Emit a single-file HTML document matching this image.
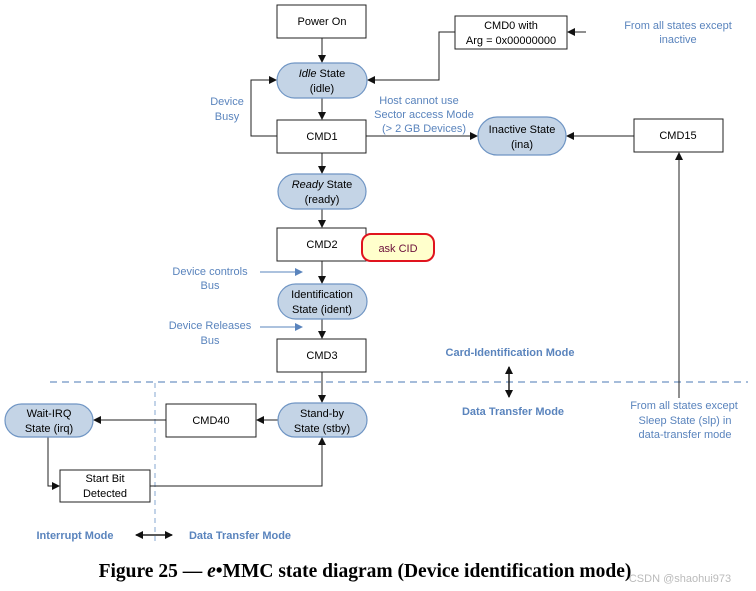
<!DOCTYPE html>
<html><head><meta charset="utf-8"><style>
html,body{margin:0;padding:0;background:#fff;}
svg{display:block;}
text{font-family:"Liberation Sans",sans-serif;font-size:11px;}
.b{fill:#fff;stroke:#222;stroke-width:1;}
.p{fill:#c4d4e6;stroke:#6f95c4;stroke-width:1.2;}
.l{stroke:#222;stroke-width:1;fill:none;}
.bl{fill:#5a84bd;}
.bb{fill:#5a84bd;font-weight:bold;}
</style></head><body>
<svg width="756" height="591" viewBox="0 0 756 591" xmlns="http://www.w3.org/2000/svg">
<defs>
<marker id="a" markerWidth="8" markerHeight="8" refX="7" refY="4" orient="auto-start-reverse" markerUnits="userSpaceOnUse"><path d="M0,0 L8,4 L0,8 z" fill="#111"/></marker>
<marker id="ab" markerWidth="8" markerHeight="8" refX="7" refY="4" orient="auto" markerUnits="userSpaceOnUse"><path d="M0,0 L8,4 L0,8 z" fill="#5a84bd"/></marker>
</defs>
<line x1="50" y1="382" x2="748" y2="382" stroke="#6f95c4" stroke-width="1.2" stroke-dasharray="7,5"/>
<line x1="155" y1="383" x2="155" y2="545" stroke="#9ab6d8" stroke-width="1.2" stroke-dasharray="5,4"/>

<line class="l" x1="322" y1="38" x2="322" y2="62" marker-end="url(#a)"/>
<line class="l" x1="322" y1="98" x2="322" y2="119" marker-end="url(#a)"/>
<line class="l" x1="322" y1="153" x2="322" y2="173" marker-end="url(#a)"/>
<line class="l" x1="322" y1="209" x2="322" y2="227" marker-end="url(#a)"/>
<line class="l" x1="322" y1="261" x2="322" y2="283" marker-end="url(#a)"/>
<line class="l" x1="322" y1="319" x2="322" y2="338" marker-end="url(#a)"/>
<line class="l" x1="322" y1="372" x2="322" y2="402" marker-end="url(#a)"/>
<polyline class="l" points="277,136 251,136 251,80 276,80" marker-end="url(#a)"/>
<polyline class="l" points="455,32 439,32 439,80 368,80" marker-end="url(#a)"/>
<line class="l" x1="586" y1="32" x2="568" y2="32" marker-end="url(#a)"/>
<line class="l" x1="366" y1="136" x2="477" y2="136" marker-end="url(#a)"/>
<line class="l" x1="634" y1="136" x2="567" y2="136" marker-end="url(#a)"/>
<line class="l" x1="679" y1="398" x2="679" y2="153" marker-end="url(#a)"/>
<line class="l" x1="278" y1="420" x2="257" y2="420" marker-end="url(#a)"/>
<line class="l" x1="166" y1="420" x2="94" y2="420" marker-end="url(#a)"/>
<polyline class="l" points="48,437 48,486 59,486" marker-end="url(#a)"/>
<polyline class="l" points="150,486 322,486 322,438" marker-end="url(#a)"/>
<line x1="260" y1="272" x2="302" y2="272" stroke="#5a84bd" marker-end="url(#ab)"/>
<line x1="260" y1="327" x2="302" y2="327" stroke="#5a84bd" marker-end="url(#ab)"/>
<line class="l" x1="509" y1="367" x2="509" y2="397" marker-end="url(#a)" marker-start="url(#a)" style="stroke-width:1.5"/>
<line class="l" x1="136" y1="535" x2="172" y2="535" marker-end="url(#a)" marker-start="url(#a)" style="stroke-width:1.5"/>

<rect class="b" x="277" y="5" width="89" height="33"/>
<text x="322" y="25" text-anchor="middle">Power On</text>
<rect class="p" x="277" y="63" width="90" height="35" rx="17.5"/>
<text x="322" y="77" text-anchor="middle"><tspan font-style="italic">Idle</tspan> State</text>
<text x="322" y="92" text-anchor="middle">(idle)</text>
<rect class="b" x="277" y="120" width="89" height="33"/>
<text x="322" y="140" text-anchor="middle">CMD1</text>
<rect class="p" x="278" y="174" width="88" height="35" rx="17.5"/>
<text x="322" y="188" text-anchor="middle"><tspan font-style="italic">Ready</tspan> State</text>
<text x="322" y="203" text-anchor="middle">(ready)</text>
<rect class="b" x="277" y="228" width="89" height="33"/>
<text x="322" y="248" text-anchor="middle">CMD2</text>
<rect x="362" y="234" width="72" height="27" rx="9" fill="#ffffcc" stroke="#e0141e" stroke-width="2"/>
<text x="398" y="252" text-anchor="middle" fill="#6b0f3a">ask CID</text>
<rect class="p" x="278" y="284" width="89" height="35" rx="17.5"/>
<text x="322" y="298" text-anchor="middle">Identification</text>
<text x="322" y="313" text-anchor="middle">State (ident)</text>
<rect class="b" x="277" y="339" width="89" height="33"/>
<text x="322" y="359" text-anchor="middle">CMD3</text>
<rect class="p" x="278" y="403" width="89" height="34" rx="17"/>
<text x="322" y="417" text-anchor="middle">Stand-by</text>
<text x="322" y="432" text-anchor="middle">State (stby)</text>
<rect class="b" x="166" y="404" width="90" height="33"/>
<text x="211" y="424" text-anchor="middle">CMD40</text>
<rect class="p" x="5" y="404" width="88" height="33" rx="16.5"/>
<text x="49" y="417" text-anchor="middle">Wait-IRQ</text>
<text x="49" y="432" text-anchor="middle">State (irq)</text>
<rect class="b" x="60" y="470" width="90" height="32"/>
<text x="105" y="482" text-anchor="middle">Start Bit</text>
<text x="105" y="497" text-anchor="middle">Detected</text>
<rect class="b" x="455" y="16" width="112" height="33"/>
<text x="511" y="29" text-anchor="middle">CMD0 with</text>
<text x="511" y="44" text-anchor="middle">Arg = 0x00000000</text>
<rect class="p" x="478" y="117" width="88" height="38" rx="19"/>
<text x="522" y="133" text-anchor="middle">Inactive State</text>
<text x="522" y="148" text-anchor="middle">(ina)</text>
<rect class="b" x="634" y="119" width="89" height="33"/>
<text x="678" y="139" text-anchor="middle">CMD15</text>

<text class="bl" x="227" y="105" text-anchor="middle">Device</text>
<text class="bl" x="227" y="120" text-anchor="middle">Busy</text>
<text class="bl" x="419" y="104" text-anchor="middle">Host cannot use</text>
<text class="bl" x="424" y="118" text-anchor="middle">Sector access Mode</text>
<text class="bl" x="424" y="132" text-anchor="middle">(&gt; 2 GB Devices)</text>
<text class="bl" x="678" y="29" text-anchor="middle">From all states except</text>
<text class="bl" x="678" y="43" text-anchor="middle">inactive</text>
<text class="bl" x="210" y="275" text-anchor="middle">Device controls</text>
<text class="bl" x="210" y="289" text-anchor="middle">Bus</text>
<text class="bl" x="210" y="329" text-anchor="middle">Device Releases</text>
<text class="bl" x="210" y="344" text-anchor="middle">Bus</text>
<text class="bb" x="510" y="356" text-anchor="middle">Card-Identification Mode</text>
<text class="bb" x="513" y="415" text-anchor="middle">Data Transfer Mode</text>
<text class="bl" x="684" y="409" text-anchor="middle">From all states except</text>
<text class="bl" x="685" y="424" text-anchor="middle">Sleep State (slp) in</text>
<text class="bl" x="685" y="438" text-anchor="middle">data-transfer mode</text>
<text class="bb" x="75" y="539" text-anchor="middle">Interrupt Mode</text>
<text class="bb" x="240" y="539" text-anchor="middle">Data Transfer Mode</text>
<text x="365" y="577" text-anchor="middle" style="font-family:'Liberation Serif',serif;font-size:19.5px;font-weight:bold;">Figure 25 — <tspan font-style="italic">e</tspan>•MMC state diagram (Device identification mode)</text>
<text x="680" y="582" text-anchor="middle" style="font-size:11px;fill:#bbb;">CSDN @shaohui973</text>
</svg>
</body></html>
